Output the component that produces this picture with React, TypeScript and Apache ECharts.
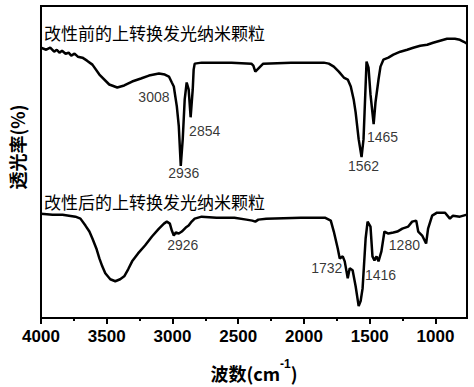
import React, { useEffect, useRef } from "react";
import * as echarts from "echarts";

// Wavenumber (cm-1) and transmittance (arbitrary units)
const beforeWavenumbers = [
  4000, 3960, 3930, 3900, 3880, 3860, 3840, 3813, 3790, 3770, 3745, 3720, 3685, 3650, 3609, 3556,
  3481, 3420, 3367, 3307, 3240, 3179, 3103, 3058, 3027, 3005, 2990, 2967, 2952, 2937, 2922, 2907,
  2892, 2877, 2862, 2846, 2839, 2831, 2778, 2551, 2400, 2385, 2370, 2355, 2340, 2310, 2098, 1849,
  1811, 1773, 1735, 1697, 1667, 1644, 1622, 1607, 1584, 1562, 1547, 1539, 1524, 1509, 1494, 1470,
  1456, 1433, 1418, 1396, 1358, 1320, 1267, 1215, 1169, 1116, 1063, 1018, 965, 912, 852, 814, 784, 760,
];
const beforeValues = [
  272, 270, 272, 268, 270, 267, 269, 266, 267, 264, 266, 263, 262, 259, 255, 245,
  235, 232, 234, 238, 241, 244, 246, 245, 243, 237, 233, 213, 193, 153, 180, 220,
  237, 230, 202, 230, 250, 256, 257, 257, 256, 254, 248, 250, 252, 256, 257, 257,
  256, 253, 248, 242, 240, 233, 220, 207, 180, 162, 180, 207, 258, 252, 225, 195,
  217, 240, 253, 260, 262, 265, 268, 270, 272, 274, 275, 277, 279, 281, 281, 280, 278, 276,
];

const afterWavenumbers = [
  4000, 3912, 3836, 3738, 3700, 3662, 3632, 3609, 3579, 3556, 3534, 3511, 3473, 3435, 3398, 3367,
  3337, 3307, 3262, 3209, 3156, 3103, 3065, 3043, 3020, 3005, 2990, 2975, 2952, 2929, 2899, 2877,
  2854, 2831, 2778, 2665, 2529, 2438, 2393, 2370, 2347, 2287, 2023, 1841, 1796, 1773, 1743, 1728,
  1705, 1690, 1667, 1652, 1630, 1607, 1584, 1569, 1554, 1531, 1516, 1494, 1479, 1464, 1448, 1433,
  1411, 1388, 1358, 1320, 1290, 1252, 1207, 1177, 1146, 1131, 1101, 1071, 1056, 1025, 988, 927,
  890, 867, 814, 760,
];
const afterValues = [
  105, 104, 104, 102, 100, 93, 87, 80, 70, 60, 52, 45, 39, 37, 39, 42,
  49, 57, 65, 73, 82, 90, 95, 97, 95, 88, 83, 86, 85, 87, 91, 93,
  97, 100, 102, 101, 101, 99, 98, 97, 99, 100, 101, 101, 98, 87, 70, 60,
  62, 57, 40, 50, 48, 32, 12, 17, 30, 80, 97, 92, 62, 58, 62, 57,
  67, 87, 85, 86, 87, 90, 92, 97, 98, 87, 83, 75, 90, 103, 106, 106,
  100, 103, 102, 104,
];

const sampleTitles = ["改性前的上转换发光纳米颗粒", "改性后的上转换发光纳米颗粒"];

// Peak labels: text, wavenumber and transmittance at the label centre
const peakTexts = ["3008", "2936", "2854", "1562", "1465", "2926", "1732", "1416", "1280"];
const peakWavenumbers = [3141, 2914, 2755, 1547, 1403, 2922, 1826, 1418, 1236];
const peakValues = [222, 146, 188, 153, 182, 73, 50, 43, 73];

const majorTicks = [4000, 3500, 3000, 2500, 2000, 1500, 1000];
const minorTicks = [3750, 3250, 2750, 2250, 1750, 1250];

const xMin = 760;
const xMax = 4000;
const yMin = 0;
const yMax = 314;

const numFont = "'Liberation Sans', Arial, sans-serif";
const cjkFont = "'Noto Sans CJK SC', 'Liberation Sans', sans-serif";

export default function App() {
  const ref = useRef<HTMLDivElement>(null);

  useEffect(() => {
    document.body.style.margin = "0";
    if (!ref.current) return;
    const chart = echarts.init(ref.current, null, { renderer: "svg" });

    const before = beforeWavenumbers.map((w, i) => [w, beforeValues[i]]);
    const after = afterWavenumbers.map((w, i) => [w, afterValues[i]]);
    const peaks = peakTexts.map((t, i) => [peakWavenumbers[i], peakValues[i], t]);

    const lineStyle = { color: "#000", width: 2.5 };

    chart.setOption({
      animation: false,
      backgroundColor: "#fff",
      grid: {
        left: 38,
        right: 7,
        top: 6,
        bottom: 67,
        show: true,
        borderColor: "#000",
        borderWidth: 2,
        backgroundColor: "transparent",
      },
      title: sampleTitles.map((t, i) => ({
        text: t,
        left: 44,
        top: i === 0 ? 24 : 193,
        padding: 0,
        textStyle: {
          fontFamily: cjkFont,
          fontSize: 17,
          fontWeight: "normal",
          color: "#000",
        },
      })),
      xAxis: [
        {
          type: "value",
          inverse: true,
          min: xMin,
          max: xMax,
          name: "{a|波数(cm}{b|-1}{a|)}",
          nameLocation: "middle",
          nameGap: 40,
          nameTextStyle: {
            rich: {
              a: {
                fontFamily: cjkFont,
                fontSize: 18,
                fontWeight: "bold",
                color: "#000",
                lineHeight: 24,
                verticalAlign: "bottom",
              },
              b: {
                fontFamily: numFont,
                fontSize: 12,
                fontWeight: "bold",
                color: "#000",
                lineHeight: 24,
                verticalAlign: "top",
              },
            },
          },
          axisLine: { show: true, lineStyle: { color: "#000", width: 2 } },
          axisTick: {
            show: true,
            inside: false,
            length: 6,
            customValues: majorTicks,
            lineStyle: { color: "#000", width: 2 },
          },
          axisLabel: {
            show: true,
            customValues: majorTicks,
            formatter: (v: number) => String(v),
            margin: 10,
            fontFamily: numFont,
            fontSize: 17,
            fontWeight: "bold",
            color: "#000",
          },
          splitLine: { show: false },
        },
        {
          type: "value",
          inverse: true,
          min: xMin,
          max: xMax,
          position: "bottom",
          axisLine: { show: false },
          axisTick: {
            show: true,
            inside: false,
            length: 3,
            customValues: minorTicks,
            lineStyle: { color: "#000", width: 2 },
          },
          axisLabel: { show: false },
          splitLine: { show: false },
        },
      ],
      yAxis: {
        type: "value",
        min: yMin,
        max: yMax,
        name: "透光率(%)",
        nameLocation: "middle",
        nameRotate: 90,
        nameGap: 15,
        nameTextStyle: {
          fontFamily: cjkFont,
          fontSize: 18,
          fontWeight: "bold",
          color: "#000",
          padding: [0, 0, 0, 30],
        },
        axisLine: { show: true, lineStyle: { color: "#000", width: 2 } },
        axisTick: { show: false },
        axisLabel: { show: false },
        splitLine: { show: false },
      },
      series: [
        {
          type: "line",
          data: before,
          showSymbol: false,
          symbol: "none",
          lineStyle,
          xAxisIndex: 0,
        },
        {
          type: "line",
          data: after,
          showSymbol: false,
          symbol: "none",
          lineStyle,
          xAxisIndex: 0,
        },
        {
          type: "scatter",
          data: peaks,
          xAxisIndex: 0,
          symbolSize: 1,
          itemStyle: { color: "transparent" },
          label: {
            show: true,
            position: "inside",
            formatter: (p: any) => p.data[2],
            fontFamily: numFont,
            fontSize: 14,
            color: "#000",
          },
          silent: true,
        },
      ],
    });

    return () => chart.dispose();
  }, []);

  return <div ref={ref} style={{ width: 474, height: 387 }} />;
}
